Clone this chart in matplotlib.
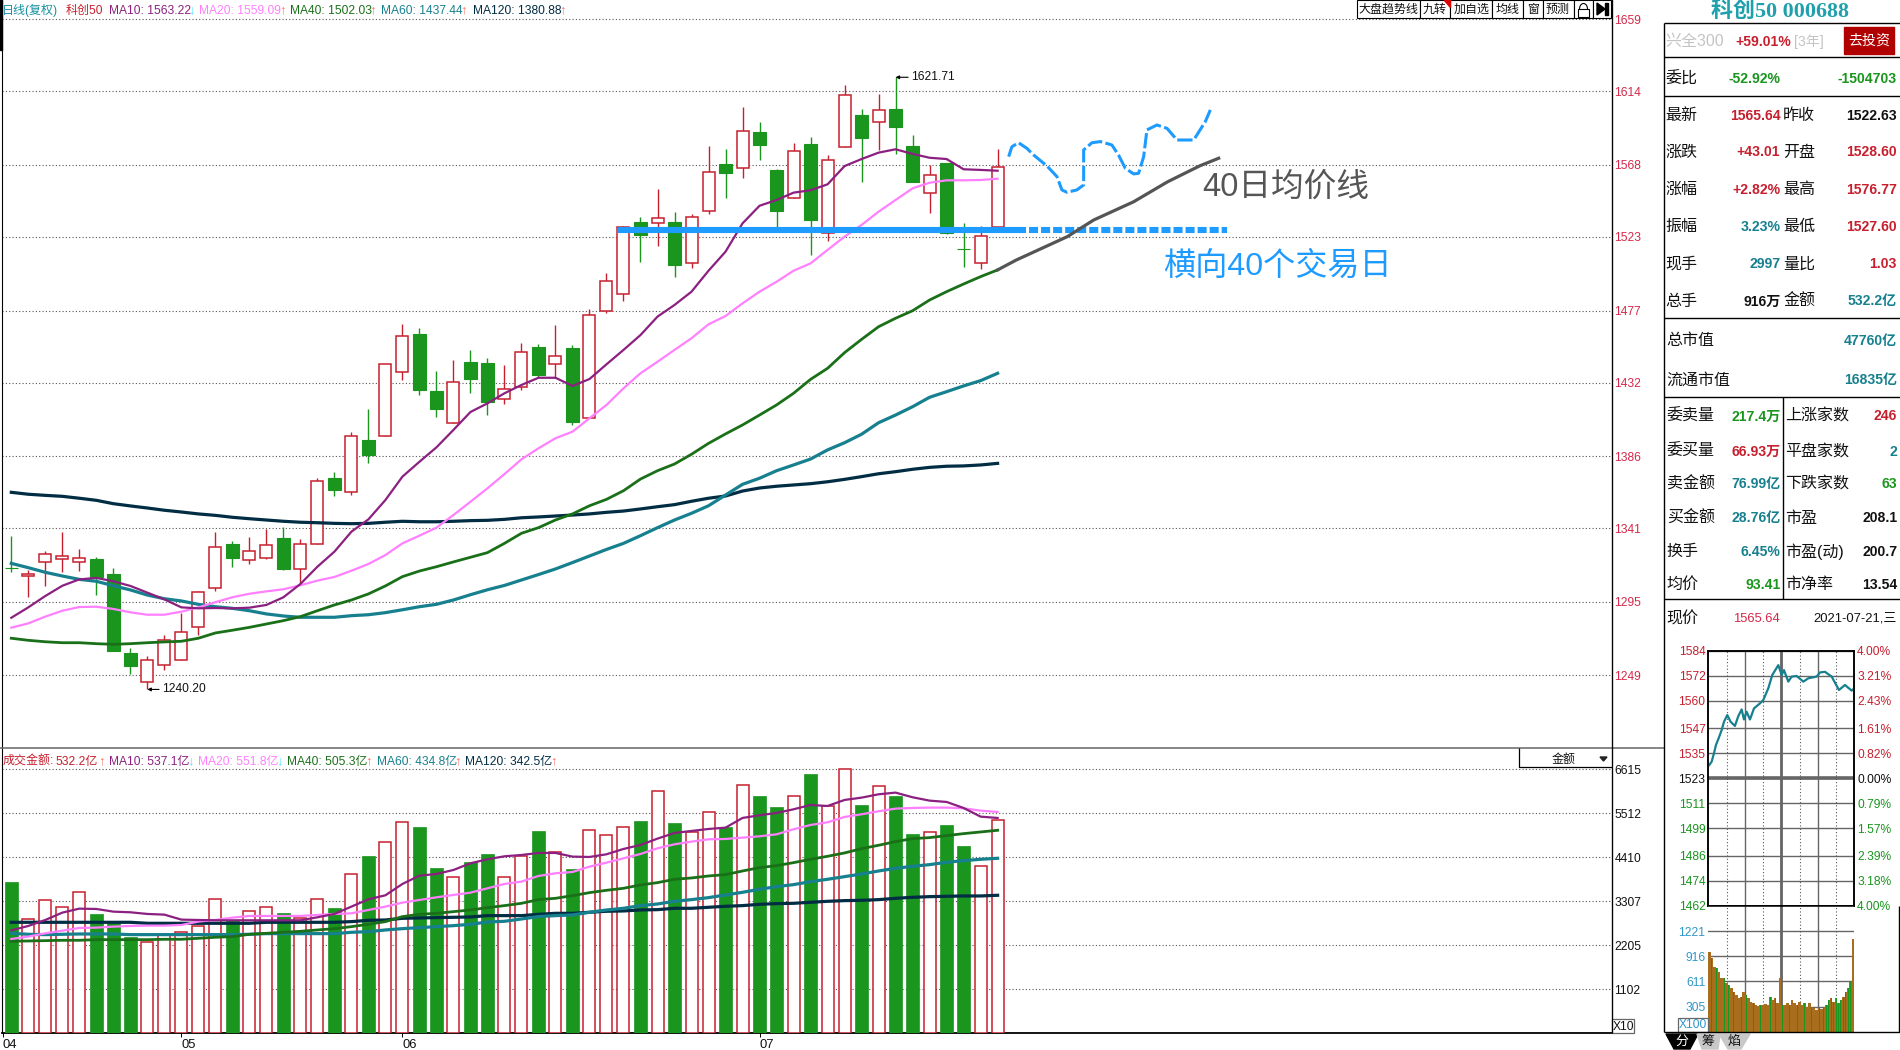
import numpy as np
import matplotlib
matplotlib.use('Agg')
import matplotlib.pyplot as plt
from matplotlib.patches import Rectangle, Polygon, Arc

plt.rcParams['font.family'] = ['Liberation Sans', 'Noto Sans CJK SC', 'DejaVu Sans']

# daily candles
opens = [1315.9, 1311.0, 1319.7, 1321.5, 1319.7, 1321.5, 1312.4, 1262.8, 1244.7, 1255.3,
         1258.4, 1279.0, 1303.8, 1331.1, 1321.3, 1322.5, 1334.9, 1315.7, 1330.9, 1372.4,
         1363.8, 1396.1, 1398.8, 1438.4, 1462.4, 1426.7, 1407.0, 1444.9, 1444.2, 1421.5,
         1429.0, 1454.2, 1443.4, 1453.6, 1410.0, 1476.5, 1487.2, 1532.4, 1531.9, 1532.4,
         1506.5, 1539.0, 1568.6, 1565.9, 1588.6, 1564.9, 1547.2, 1581.1, 1525.3, 1579.0,
         1599.2, 1594.7, 1603.0, 1579.9, 1550.3, 1569.2, 1515.3, 1506.5, 1529.4]
closes = [1315.9, 1312.3, 1324.7, 1323.8, 1322.5, 1310.3, 1264.2, 1255.0, 1258.4, 1270.9,
          1275.9, 1300.9, 1329.0, 1322.4, 1326.5, 1330.3, 1315.3, 1330.9, 1370.3, 1364.8,
          1398.4, 1386.7, 1443.4, 1460.9, 1427.4, 1415.5, 1432.2, 1434.2, 1420.0, 1427.8,
          1450.9, 1436.7, 1448.4, 1407.5, 1474.0, 1495.3, 1529.0, 1524.4, 1534.7, 1505.7,
          1535.3, 1563.4, 1563.0, 1589.0, 1580.5, 1539.4, 1576.5, 1533.6, 1570.9, 1611.5,
          1585.0, 1602.2, 1591.9, 1557.5, 1561.5, 1525.5, 1515.3, 1523.4, 1566.5]
highs = [1336.1, 1314.9, 1326.7, 1338.4, 1328.0, 1323.2, 1316.1, 1265.9, 1261.1, 1274.2,
         1288.0, 1301.7, 1338.4, 1332.8, 1335.5, 1340.3, 1341.5, 1334.2, 1372.2, 1376.1,
         1401.1, 1415.5, 1443.4, 1468.6, 1466.1, 1439.2, 1446.1, 1452.4, 1447.2, 1443.0,
         1456.7, 1456.1, 1468.0, 1455.5, 1477.8, 1500.5, 1529.9, 1535.3, 1553.0, 1538.6,
         1537.4, 1579.9, 1578.0, 1604.2, 1594.9, 1565.7, 1581.7, 1585.5, 1574.2, 1618.0,
         1603.0, 1612.4, 1622.8, 1586.7, 1567.8, 1569.2, 1531.5, 1529.9, 1578.0]
lows = [1313.8, 1298.2, 1304.9, 1313.8, 1314.4, 1299.4, 1264.2, 1249.9, 1240.2, 1252.4,
        1258.4, 1274.2, 1301.9, 1316.7, 1318.6, 1321.9, 1314.9, 1306.1, 1330.9, 1361.1,
        1361.7, 1381.7, 1398.8, 1433.8, 1424.4, 1410.7, 1406.7, 1425.7, 1411.9, 1418.6,
        1427.4, 1435.0, 1435.0, 1405.7, 1410.0, 1475.7, 1483.2, 1507.5, 1517.5, 1498.2,
        1503.8, 1537.5, 1547.4, 1560.0, 1571.3, 1528.6, 1547.2, 1511.7, 1520.5, 1579.0,
        1557.5, 1577.4, 1575.0, 1557.5, 1538.2, 1524.7, 1504.0, 1503.0, 1529.4]

ma10 = [1285.0, 1291.5, 1298.6, 1305.0, 1309.0, 1309.9, 1307.8, 1304.9, 1300.7, 1296.5,
        1291.5, 1290.9, 1291.1, 1290.9, 1291.3, 1293.0, 1297.8, 1306.1, 1316.9, 1326.3,
        1338.8, 1346.5, 1358.6, 1373.2, 1382.5, 1391.5, 1402.4, 1413.6, 1419.0, 1425.3,
        1430.5, 1435.0, 1435.0, 1429.9, 1434.2, 1443.4, 1452.4, 1461.7, 1473.2, 1480.5,
        1488.8, 1501.9, 1513.8, 1531.5, 1542.5, 1546.1, 1550.7, 1552.2, 1555.9, 1567.3,
        1571.7, 1575.7, 1577.8, 1574.9, 1572.5, 1571.7, 1565.3, 1564.9, 1564.4]
ma20 = [1278.8, 1281.5, 1285.7, 1289.4, 1291.7, 1291.9, 1290.5, 1288.4, 1286.9, 1286.9,
        1288.8, 1291.5, 1294.7, 1297.8, 1300.0, 1301.5, 1302.8, 1305.3, 1308.2, 1310.5,
        1314.4, 1318.6, 1324.2, 1331.5, 1336.3, 1341.3, 1349.2, 1357.5, 1365.9, 1374.8,
        1384.0, 1390.9, 1397.2, 1401.3, 1409.7, 1418.0, 1428.4, 1437.8, 1445.0, 1452.4,
        1459.7, 1468.4, 1473.6, 1481.5, 1488.8, 1495.0, 1501.9, 1506.5, 1514.9, 1523.2,
        1530.5, 1538.8, 1546.1, 1553.4, 1556.9, 1558.4, 1558.4, 1558.6, 1559.4]
ma40 = [1272.2, 1270.9, 1270.0, 1269.4, 1269.4, 1268.8, 1268.4, 1268.8, 1269.4, 1269.9,
        1270.3, 1272.2, 1275.5, 1277.2, 1279.0, 1281.1, 1283.2, 1285.7, 1289.4, 1293.0,
        1296.1, 1299.9, 1304.9, 1310.7, 1314.2, 1316.9, 1319.9, 1322.8, 1325.7, 1331.5,
        1337.8, 1341.3, 1346.1, 1349.9, 1355.0, 1359.0, 1364.4, 1371.7, 1376.9, 1381.1,
        1387.2, 1394.0, 1399.9, 1405.5, 1411.7, 1418.0, 1425.3, 1434.0, 1440.9, 1450.7,
        1459.0, 1466.9, 1472.2, 1476.9, 1483.6, 1488.8, 1493.6, 1498.2, 1502.4]
ma60 = [1319.0, 1316.3, 1313.4, 1311.1, 1309.0, 1307.8, 1305.0, 1302.4, 1299.2, 1296.9,
        1295.5, 1293.4, 1291.9, 1290.9, 1289.4, 1287.4, 1286.1, 1285.3, 1285.3, 1285.3,
        1286.3, 1286.9, 1288.2, 1290.0, 1291.9, 1293.4, 1296.1, 1299.4, 1302.5, 1305.2,
        1308.6, 1312.0, 1315.5, 1319.5, 1323.6, 1327.7, 1331.5, 1336.3, 1341.3, 1346.1,
        1350.3, 1355.0, 1361.7, 1368.4, 1372.2, 1376.9, 1380.5, 1384.2, 1389.9, 1394.4,
        1399.7, 1406.9, 1411.7, 1416.9, 1422.8, 1426.3, 1429.9, 1433.2, 1437.8]
ma120 = [1363.4, 1362.2, 1361.5, 1360.9, 1359.7, 1358.4, 1356.3, 1354.9, 1353.6, 1352.2,
         1351.1, 1349.9, 1349.0, 1347.8, 1346.9, 1346.1, 1345.3, 1344.7, 1344.4, 1344.0,
         1343.8, 1344.0, 1344.7, 1345.3, 1345.0, 1345.0, 1345.3, 1345.7, 1345.9, 1346.5,
         1347.5, 1348.0, 1348.6, 1349.2, 1349.9, 1350.9, 1351.7, 1353.0, 1354.4, 1355.7,
         1357.8, 1359.7, 1361.1, 1364.2, 1366.1, 1367.2, 1368.0, 1368.8, 1370.0, 1371.5,
         1373.2, 1375.0, 1376.3, 1377.8, 1379.0, 1379.7, 1379.9, 1380.5, 1381.5]

# hand drawn marks on the chart, x in trading days
trend_x = [58, 59.1, 62.1, 63.65, 66, 68, 69.9, 71]
trend_y = [1502.4, 1508.6, 1523.2, 1533.6, 1545, 1557.5, 1567.5, 1572.2]
path_x = [58.65, 58.84, 59.23, 59.72, 60.12, 60.9, 61.49, 61.78, 62.08, 62.66, 63.06, 63.06, 63.55, 64.04,
          64.72, 65.11, 65.51, 66, 66.29, 66.59, 66.78, 67.37, 67.96, 68.55, 69.53, 70.21, 70.51]
path_y = [1573.2, 1579.4, 1581.9, 1578.4, 1574.2, 1567.4, 1560.7, 1552.4, 1550.9, 1552.4, 1555.5, 1577.4,
          1581.9, 1582.6, 1580.5, 1574.2, 1565.9, 1562.4, 1562.8, 1573.2, 1589.9, 1593, 1590.9, 1583.6,
          1583.6, 1595, 1602.4]
level = 1527.4
level_start, level_mid, level_end = 35.65, 59.15, 71.5

# turnover
amount = [3793, 2857, 3333, 3158, 3534, 2991, 2774, 2423, 2281, 2464, 2531, 2682, 3358, 2840, 3058,
          3158, 3016, 2882, 3358, 3141, 3985, 4444, 4787, 5288, 5171, 4144, 3910, 4294, 4494, 3910,
          4436, 5071, 4536, 4119, 5088, 4962, 5163, 5321, 6065, 5271, 5054, 5539, 5171, 6215, 5948,
          5672, 5940, 6499, 5706, 6616, 5722, 6190, 5948, 4996, 5037, 5221, 4695, 4185, 5338]
vma10 = [2581, 2690, 2840, 3024, 3124, 3116, 3049, 3033, 2991, 2974, 2849, 2840, 2832, 2832, 2832,
         2832, 2832, 2832, 2907, 2991, 3175, 3358, 3459, 3743, 3951, 3993, 4093, 4261, 4361, 4436,
         4469, 4520, 4520, 4428, 4419, 4486, 4620, 4720, 4879, 5021, 5071, 5121, 5154, 5397, 5464,
         5522, 5614, 5722, 5697, 5848, 5906, 5990, 6032, 5915, 5831, 5798, 5647, 5430, 5397]
vma20 = [2364, 2423, 2506, 2573, 2640, 2648, 2673, 2690, 2698, 2698, 2715, 2799, 2840, 2899, 2941,
         2941, 2941, 2941, 2966, 2991, 3007, 3091, 3175, 3275, 3342, 3408, 3467, 3525, 3634, 3743,
         3801, 3943, 4010, 4043, 4177, 4277, 4386, 4494, 4636, 4737, 4804, 4862, 4870, 4904, 4937,
         4987, 5113, 5221, 5288, 5422, 5489, 5564, 5631, 5647, 5656, 5656, 5639, 5580, 5547]
vma40 = [2306, 2314, 2322, 2331, 2331, 2347, 2347, 2347, 2347, 2356, 2356, 2381, 2406, 2423, 2481,
         2506, 2531, 2556, 2590, 2623, 2673, 2732, 2799, 2924, 2982, 3007, 3049, 3091, 3149, 3200,
         3258, 3350, 3383, 3450, 3525, 3584, 3634, 3718, 3776, 3860, 3893, 3943, 3977, 4068, 4152,
         4202, 4277, 4361, 4436, 4520, 4628, 4712, 4804, 4879, 4904, 4954, 5004, 5046, 5088]
vma60 = [2506, 2481, 2473, 2481, 2489, 2489, 2489, 2473, 2473, 2473, 2473, 2473, 2473, 2473, 2481,
         2498, 2498, 2498, 2498, 2498, 2531, 2548, 2590, 2623, 2648, 2673, 2698, 2732, 2790, 2807,
         2865, 2924, 2949, 2966, 3033, 3091, 3133, 3200, 3241, 3308, 3350, 3400, 3467, 3534, 3609,
         3676, 3726, 3801, 3860, 3926, 3993, 4068, 4135, 4185, 4227, 4286, 4327, 4361, 4386]
vma120 = [2782, 2782, 2782, 2782, 2782, 2782, 2782, 2782, 2757, 2757, 2757, 2757, 2757, 2757, 2757,
          2782, 2782, 2782, 2782, 2782, 2799, 2832, 2840, 2882, 2891, 2899, 2907, 2916, 2949, 2949,
          2949, 2982, 3007, 3007, 3033, 3058, 3066, 3091, 3099, 3133, 3133, 3158, 3183, 3200, 3233,
          3250, 3258, 3283, 3308, 3325, 3333, 3350, 3383, 3408, 3425, 3433, 3442, 3442, 3459]

price_ticks = [1659, 1614, 1568, 1523, 1477, 1432, 1386, 1341, 1295, 1249]
amount_ticks = [6615, 5512, 4410, 3307, 2205, 1102]
month_pos = [-0.5, 10, 23, 44]
month_labels = ['04', '05', '06', '07']

# intraday box
min_x = [1.6, 5.5, 9.3, 12.6, 17, 21.9, 25.8, 31.2, 36.7, 43.8, 49.3, 54.8, 58.6, 63, 68.5, 75.1, 84.9, 90.4,
         98.6, 105.2, 115.1, 120.6, 124.4, 131.5, 137, 145.2, 156.2, 164.4, 178.1, 183.6, 191.8, 202.8,
         214.8, 224.7, 235.6, 240]
min_price = [1529.3, 1530.9, 1534.9, 1538.9, 1542.1, 1546, 1550, 1553.2, 1550, 1548, 1552.7, 1555.9, 1551.1,
             1554.8, 1551.1, 1556.4, 1558.8, 1560.4, 1566, 1572.4, 1577.1, 1572.4, 1574.7, 1569.2, 1571.6,
             1571.9, 1569.2, 1570.8, 1571.6, 1573.6, 1573.9, 1571.6, 1565.2, 1567.6, 1564.9, 1566]
min_vol = [972, 891, 790, 770, 729, 648, 648, 587, 567, 527, 486, 446, 405, 425, 486, 446, 405, 365, 344, 324,
           312, 320, 324, 336, 324, 425, 385, 405, 344, 648, 324, 324, 344, 324, 385, 344, 324, 365, 324, 344,
           304, 344, 304, 283, 263, 283, 271, 304, 324, 385, 405, 365, 405, 344, 385, 425, 486, 527, 608, 1122]
min_green = [1, 3, 6, 8, 10, 13, 15, 18, 21, 25, 27, 30, 33, 36, 39, 42, 45, 47, 48, 49, 50, 51, 52, 53, 54,
             55, 56, 57, 58]
open_vol = 1520
min_ticks = [1584, 1572, 1560, 1547, 1535, 1523, 1511, 1499, 1486, 1474, 1462]
min_pct = ['4.00%', '3.21%', '2.43%', '1.61%', '0.82%', '0.00%', '0.79%', '1.57%', '2.39%', '3.18%', '4.00%']
minvol_ticks = [305, 611, 916, 1221]

RED = '#C6202E'
GREEN = '#1A951E'
TEAL = '#17808F'
C10, C20, C40, C60, C120 = '#8B2080', '#FF80FF', '#1A7018', '#17808F', '#002D44'
BLUE = '#1E9BFF'
W, H = 1900, 1050


def fs(n):
    return n * 0.72


def px_axes(x0, y0, x1, y1):
    return fig.add_axes([x0 / W, 1 - y1 / H, (x1 - x0) / W, (y1 - y0) / H])


def dotted(ax, ticks):
    ax.set_axisbelow(True)
    ax.yaxis.grid(True, color='#555555', lw=0.8, ls=(0, (1, 2)))


fig = plt.figure(figsize=(19, 10.5), dpi=100, facecolor='white')
idx = np.arange(len(opens))
up = np.array(closes) > np.array(opens)
xlim = (-0.547, 94.1)

# price panel
ax = px_axes(2, 0, 1611.5, 748)
ax.set_xlim(xlim)
ax.set_ylim(1203.6, 1671.1)
dotted(ax, price_ticks)
ax.set_yticks(price_ticks)
ax.yaxis.tick_right()
ax.tick_params(axis='y', length=0, pad=2, labelsize=fs(12), labelcolor='#D6284A')
ax.set_xticks([])
for side in ['top', 'bottom']:
    ax.spines[side].set_visible(False)

for i in idx:
    col = RED if up[i] else GREEN
    ax.vlines(i, lows[i], highs[i], color=col, lw=1.0, zorder=2)
    top, bot = max(opens[i], closes[i]), min(opens[i], closes[i])
    if up[i]:
        ax.bar(i, top - bot, bottom=bot, width=12 / 17, facecolor='white', edgecolor=RED, lw=1.1, zorder=3)
    else:
        ax.bar(i, top - bot, bottom=bot, width=13 / 17, facecolor=GREEN, edgecolor=GREEN, lw=0.8, zorder=3)

ax.plot(idx, ma120, color=C120, lw=2.3, zorder=4)
ax.plot(idx, ma60, color=C60, lw=2.3, zorder=4)
ax.plot(idx, ma40, color=C40, lw=2.0, zorder=4)
ax.plot(idx, ma20, color=C20, lw=1.6, zorder=4)
ax.plot(idx, ma10, color=C10, lw=1.6, zorder=4)

ax.plot([level_start, level_mid], [level, level], color=BLUE, lw=4.4, solid_capstyle='butt', zorder=5)
ax.plot([level_mid, level_end], [level, level], color=BLUE, lw=4.4, ls=(0, (1.48, 0.49)), dash_capstyle='butt', zorder=5)
ax.plot(path_x, path_y, color=BLUE, lw=2.2, ls=(0, (5, 1.1)), zorder=5)
ax.plot(trend_x, trend_y, color='#555555', lw=2.3, zorder=6)

ax.annotate('1621.71', xy=(52, 1622.8), xytext=(52.9, 1622.8), fontsize=fs(12), va='center', color='#111111',
            arrowprops=dict(arrowstyle='-|>', color='black', lw=0.8, mutation_scale=5, shrinkA=0, shrinkB=0))
ax.annotate('1240.20', xy=(8, 1240.2), xytext=(8.85, 1240.2), fontsize=fs(12), va='center', color='#111111',
            arrowprops=dict(arrowstyle='-|>', color='black', lw=0.8, mutation_scale=5, shrinkA=0, shrinkB=0))

# turnover panel
ax2 = px_axes(2, 748, 1611.5, 1033.3)
ax2.set_xlim(xlim)
ax2.set_ylim(0, 7150)
dotted(ax2, amount_ticks)
ax2.set_yticks(amount_ticks)
ax2.yaxis.tick_right()
ax2.tick_params(axis='y', length=0, pad=2, labelsize=fs(12), labelcolor='#111111')
ax2.set_xticks(month_pos)
ax2.set_xticklabels(month_labels)
ax2.tick_params(axis='x', length=3, width=0.7, pad=1, labelsize=fs(13), labelcolor='#111111')
for lab in ax2.get_xticklabels():
    lab.set_ha('left')
ax2.spines['top'].set_visible(False)
ax2.spines['bottom'].set_linewidth(1.3)

for i in idx:
    if up[i]:
        ax2.bar(i, amount[i], width=12 / 17, facecolor='white', edgecolor=RED, lw=1.1, zorder=3)
    else:
        ax2.bar(i, amount[i], width=13 / 17, facecolor=GREEN, edgecolor=GREEN, lw=0.5, zorder=3)
ax2.plot(idx, vma120, color=C120, lw=2.3, zorder=4)
ax2.plot(idx, vma60, color=C60, lw=2.3, zorder=4)
ax2.plot(idx, vma40, color=C40, lw=2.0, zorder=4)
ax2.plot(idx, vma20, color=C20, lw=1.6, zorder=4)
ax2.plot(idx, vma10, color=C10, lw=1.6, zorder=4)

# intraday price
ax3 = px_axes(1708.3, 650.7, 1854.3, 905.7)
ax3.set_xlim(0, 240)
ax3.set_ylim(1462, 1584)
ax3.set_yticks(min_ticks)
ax3.set_xticks([60, 120, 180])
ax3.set_xticklabels([])
ax3.grid(True, color='#666666', lw=1.0)
ax3.set_axisbelow(True)
ax3.axhline(1523, color='#666666', lw=2.6, zorder=1)
ax3.axvline(120, color='#666666', lw=2.0, zorder=1)
for m in [30, 90, 150, 210]:
    ax3.axvline(m, color='#555555', lw=0.8, ls=(0, (1, 2)), zorder=1)
ax3.plot(min_x, min_price, color=TEAL, lw=1.6, zorder=3)
ax3.tick_params(axis='both', length=0, pad=2, labelsize=fs(12))
left_cols = [RED] * 5 + ['#111111'] + [GREEN] * 5
for lab, c in zip(ax3.get_yticklabels(), left_cols):
    lab.set_color(c)
ax3r = ax3.twinx()
ax3r.set_ylim(1462, 1584)
ax3r.set_yticks(min_ticks)
ax3r.set_yticklabels(min_pct)
ax3r.tick_params(axis='y', length=0, pad=2, labelsize=fs(12))
for lab, c in zip(ax3r.get_yticklabels(), left_cols):
    lab.set_color(c)
for a in [ax3, ax3r]:
    for s in a.spines.values():
        s.set_linewidth(1.1)

# intraday volume
ax4 = px_axes(1708.3, 905.7, 1854.3, 1031.7)
ax4.set_xlim(0, 240)
ax4.set_ylim(0, 1530)
ax4.set_yticks(minvol_ticks)
ax4.set_xticks([60, 120, 180])
ax4.set_xticklabels([])
ax4.grid(True, color='#666666', lw=1.0)
ax4.set_axisbelow(True)
ax4.axvline(120, color='#666666', lw=2.0, zorder=1)
for m in [30, 90, 150, 210]:
    ax4.axvline(m, color='#555555', lw=0.8, ls=(0, (1, 2)), zorder=1)
bin_x = np.arange(len(min_vol)) * 4 + 2
ax4.bar(bin_x, min_vol, width=4, color='#A86E1E', zorder=2)
ax4.bar(bin_x[min_green], np.array(min_vol)[min_green], width=1.6, color=GREEN, zorder=3)
ax4.bar(1.2, open_vol, width=1.2, color=GREEN, zorder=3)
ax4.tick_params(axis='both', length=0, pad=2, labelsize=fs(12), labelcolor='#2F96C8')
ax4.spines['top'].set_linewidth(1.1)
for s in ['left', 'right']:
    ax4.spines[s].set_visible(False)
ax4.spines['bottom'].set_visible(False)

# everything around the panels, in screen pixels
ov = fig.add_axes([0, 0, 1, 1], zorder=10)
ov.set_xlim(0, W)
ov.set_ylim(H, 0)
ov.axis('off')
ov.patch.set_alpha(0)


def label(x, y, s, color='#111111', size=12, ha='left', weight='normal', **kw):
    ov.text(x, y + 1.5, s, color=color, fontsize=fs(size), ha=ha, va='center', fontweight=weight, **kw)


def line(xs, ys, color='black', lw=1.0):
    ov.plot(xs, ys, color=color, lw=lw, solid_capstyle='butt')


ov.add_patch(Rectangle((0, 0), 2, 50, color='black'))
line([0, 1664.3], [748, 748], '#666666', 1.1)
line([1611.5, 1611.5], [0, 1033], 'black', 0.9)

# header rows
UPA, DNA = '#FF7060', '#50E0FF'
head = [(2, '日线(复权)', '#1790A0', None), (65.5, '科创50', RED, None),
        (108.6, 'MA10: 1563.22', C10, (192, '↓', DNA)), (199.4, 'MA20: 1559.09', C20, (282.8, '↑', UPA)),
        (290, 'MA40: 1502.03', C40, (373, '↑', UPA)), (381.4, 'MA60: 1437.44', C60, (464, '↑', UPA)),
        (472.6, 'MA120: 1380.88', C120, (562.6, '↑', UPA))]
for x, s, c, arrow in head:
    label(x, 9, s, c)
    if arrow:
        label(arrow[0], 9, arrow[1], arrow[2], size=13, ha='center', weight='bold')
head2 = [(2.7, '成交金额:', RED, None), (56, '532.2亿', RED, (102, '↑', UPA)),
         (109.3, 'MA10: 537.1亿', C10, (191, '↓', DNA)), (198.3, 'MA20: 551.8亿', C20, (280, '↓', DNA)),
         (287.3, 'MA40: 505.3亿', C40, (368.7, '↑', UPA)), (376.7, 'MA60: 434.8亿', C60, (457.7, '↑', UPA)),
         (465.3, 'MA120: 342.5亿', C120, (554, '↑', UPA))]
for x, s, c, arrow in head2:
    label(x, 760, s, c)
    if arrow:
        label(arrow[0], 760, arrow[1], arrow[2], size=13, ha='center', weight='bold')

# annotations
label(1202, 185.5, '40日均价线', '#555555', 32.7)
label(1163, 265, '横向40个交易日', BLUE, 32.2)

# toolbar
btn_edges = [1356.6, 1419.8, 1450.4, 1492, 1523, 1542.6, 1573.6, 1592.8, 1611]
btn_names = ['大盘趋势线', '九转', '加自选', '均线', '窗', '预测', '', '']
for k, name in enumerate(btn_names):
    ov.add_patch(Rectangle((btn_edges[k], 0), btn_edges[k + 1] - btn_edges[k], 18, fc='white', ec='black', lw=0.8))
    if name:
        label((btn_edges[k] + btn_edges[k + 1]) / 2, 8, name, '#111111', 12, ha='center')
ov.add_patch(Polygon([(1443.5, 0), (1450.4, 0), (1450.4, 6.5)], color='#E00000'))
ov.add_patch(Rectangle((1578, 9), 11, 8, fc='white', ec='black', lw=0.8))
ov.add_patch(Arc((1583.5, 9), 8, 11, theta1=180, theta2=360, ec='black', lw=0.8))
ov.add_patch(Polygon([(1597, 3), (1605, 9), (1597, 15)], color='black'))
ov.add_patch(Rectangle((1605, 3), 2.5, 12, color='black'))

# amount dropdown
line([1519.4, 1519.4, 1611.5], [748, 767.3, 767.3], 'black', 0.9)
label(1564, 758, '金额', '#111111', 12, ha='center')
ov.add_patch(Polygon([(1600, 757), (1607, 757), (1603.5, 761)], color='#222222'))
ov.add_patch(Rectangle((1612.4, 1019.3), 21.6, 13.7, fc='white', ec='#666666', lw=0.9))
label(1623, 1025, 'X10', '#111111', 12, ha='center')

# side panel frame
line([1664.3, 1900], [23.3, 23.3])
line([1664.3, 1900], [57.3, 57.3])
line([1664.3, 1900], [96, 96])
line([1664.3, 1900], [318, 318])
line([1664.3, 1900], [397.3, 397.3])
line([1664.3, 1900], [599.3, 599.3])
line([1664.3, 1664.3], [23.3, 1032])
line([1783.3, 1783.3], [397.3, 599.3])
line([1664.3, 1899.3, 1899.3], [1032, 1032, 906])

label(1780, 10, '科创50 000688', '#1FA0AC', 22, ha='center', weight='bold',
      family=['Liberation Serif', 'Noto Sans CJK SC'])

GRAY = '#C4C4C4'
label(1665.5, 40, '兴全300', GRAY, 16)
label(1791, 40, '+59.01%', RED, 14, ha='right', weight='bold')
label(1793.7, 40, '[3年]', GRAY, 14)
ov.add_patch(Rectangle((1844, 26.7), 50, 27.3, color='#B00000'))
label(1869, 39, '去投资', 'white', 14, ha='center')

label(1665.5, 77.3, '委比', '#111111', 16)
label(1780.3, 77.3, '-52.92%', GREEN, 14, ha='right', weight='bold')
label(1897, 77.3, '-1504703', GREEN, 14, ha='right', weight='bold')

quote_rows = [(114, '最新', '1565.64', RED, '昨收', '1522.63', '#111111'),
              (151, '涨跌', '+43.01', RED, '开盘', '1528.60', RED),
              (188.3, '涨幅', '+2.82%', RED, '最高', '1576.77', RED),
              (225.3, '振幅', '3.23%', TEAL, '最低', '1527.60', RED),
              (262.3, '现手', '2997', TEAL, '量比', '1.03', RED),
              (300, '总手', '916万', '#111111', '金额', '532.2亿', TEAL)]
for y, a, b, bc, c, d, dc in quote_rows:
    label(1665.5, y, a, '#111111', 16)
    label(1780.3, y, b, bc, 14, ha='right', weight='bold')
    label(1783, y, c, '#111111', 16)
    label(1897, y, d, dc, 14, ha='right', weight='bold')

label(1666.7, 339, '总市值', '#111111', 16)
label(1897.3, 339, '47760亿', TEAL, 14, ha='right', weight='bold')
label(1666.7, 378.3, '流通市值', '#111111', 16)
label(1897.3, 378.3, '16835亿', TEAL, 14, ha='right', weight='bold')

market_rows = [(415, '委卖量', '217.4万', GREEN, '上涨家数', '246', RED),
               (450, '委买量', '66.93万', RED, '平盘家数', '2', TEAL),
               (482.3, '卖金额', '76.99亿', TEAL, '下跌家数', '63', GREEN),
               (516.7, '买金额', '28.76亿', TEAL, '市盈', '208.1', '#111111'),
               (550, '换手', '6.45%', TEAL, '市盈(动)', '200.7', '#111111'),
               (583.3, '均价', '93.41', GREEN, '市净率', '13.54', '#111111')]
for y, a, b, bc, c, d, dc in market_rows:
    label(1666.7, y, a, '#111111', 16)
    label(1780.7, y, b, bc, 14, ha='right', weight='bold')
    label(1785, y, c, '#111111', 16)
    label(1897.3, y, d, dc, 14, ha='right', weight='bold')

label(1666, 617.5, '现价', '#111111', 16)
label(1780, 617.5, '1565.64', '#D6284A', 13, ha='right')
label(1896.7, 617.5, '2021-07-21,三', '#111111', 13, ha='right')

# intraday extras
ov.add_patch(Rectangle((1678.3, 1017.7), 29.3, 14, fc='white', ec='#666666', lw=0.9))
label(1693, 1023.5, 'X100', '#2F96C8', 12, ha='center')
tabs = [([1666, 1698, 1690, 1674], '分', 'black', 'white', 1682),
        ([1697, 1720, 1718, 1702], '筹', '#C8C8C8', '#111111', 1708),
        ([1719, 1750, 1741, 1728], '焰', '#C8C8C8', '#111111', 1734)]
for xs, s, fc, tc, cx in tabs:
    ov.add_patch(Polygon([(xs[0], 1034), (xs[1], 1034), (xs[2], 1049), (xs[3], 1049)], color=fc))
    label(cx, 1040.5, s, tc, 13, ha='center')

fig.savefig('out.png', dpi=100)
